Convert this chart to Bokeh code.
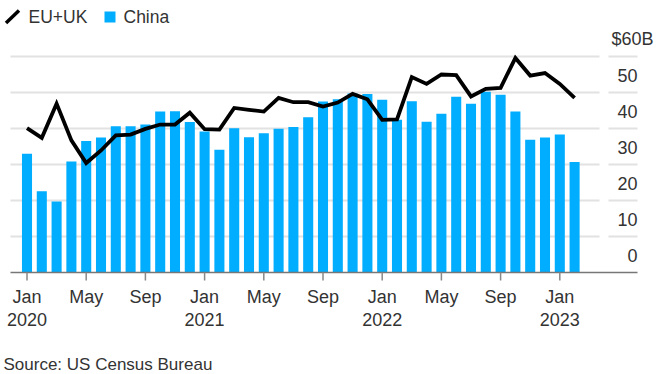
from bokeh.plotting import figure
from bokeh.models import Range1d, ColumnDataSource
from bokeh.core.properties import value
from bokeh.embed import file_html
from bokeh.resources import INLINE

# ---------------- data ----------------
month_index = list(range(38))  # Jan 2020 .. Feb 2023
china = [33.0, 22.6, 19.7, 30.8, 36.5, 37.5, 40.6, 40.6, 41.1, 44.7, 44.8, 41.8,
         39.2, 34.1, 40.1, 37.6, 38.7, 39.9, 40.4, 43.1, 47.5, 48.1, 49.7, 49.6,
         48.0, 42.4, 47.6, 41.9, 44.1, 48.8, 46.9, 50.2, 49.4, 44.7, 36.9, 37.5,
         38.3, 30.7]
eu_uk = [40.1, 37.4, 46.9, 36.7, 30.4, 33.9, 38.1, 38.3, 39.9, 41.1, 41.1, 44.4,
         39.8, 39.7, 45.7, 45.2, 44.7, 48.5, 47.3, 47.3, 46.1, 47.2, 49.6, 48.1,
         42.4, 42.5, 54.3, 52.4, 55.0, 54.8, 48.9, 51.0, 51.3, 59.6, 54.7, 55.4,
         52.4, 48.5]
tick_positions = [0, 4, 8, 12, 16, 20, 24, 28, 32, 36]
tick_months = ["Jan", "May", "Sep", "Jan", "May", "Sep", "Jan", "May", "Sep", "Jan"]
year_positions = [0, 12, 24, 36]
tick_years = ["2020", "2021", "2022", "2023"]
y_ticks = [0, 10, 20, 30, 40, 50]
y_tick_labels = ["0", "10", "20", "30", "40", "50"]
y_top_tick = 60
y_top_label = "$60B"
legend_labels = ["EU+UK", "China"]
source_text = "Source: US Census Bureau"

# ---------------- layout helpers (page pixels -> data units) ----------------
W, H = 664, 374
X0, DX = 26.5, 14.8    # page x of first month centre, px per month
Y0, DY = 272.0, 3.6    # page y of value 0, px per unit


def xd(X):
    return (X - X0) / DX


def yd(Y):
    return (Y0 - Y) / DY


FONT = "Liberation Sans"
TXT = "#333333"
BLUE = "#00adfe"
GRID = "#e2e2e2"

p = figure(width=W, height=H, output_backend="svg", toolbar_location=None,
           x_range=Range1d(xd(0), xd(W)), y_range=Range1d(yd(H), yd(0)),
           x_axis_location=None, y_axis_location=None,
           min_border_left=0, min_border_right=0,
           min_border_top=0, min_border_bottom=0)
p.outline_line_color = None
p.xgrid.visible = False
p.ygrid.visible = False
p.background_fill_color = "white"

# gridlines and label underlines
grid_vals = y_ticks[1:] + [y_top_tick]
n = len(grid_vals)
p.segment(x0=[xd(10)] * n, x1=[xd(599)] * n, y0=grid_vals, y1=grid_vals,
          line_color=GRID, line_width=2)
p.segment(x0=[xd(608)] * n, x1=[xd(637)] * n, y0=grid_vals, y1=grid_vals,
          line_color=GRID, line_width=2)

# bars and line
src = ColumnDataSource(dict(x=month_index, china=china, eu=eu_uk))
p.vbar(x="x", top="china", bottom=0, width=0.68, source=src,
       fill_color=BLUE, line_color=None)
p.line(x="x", y="eu", source=src, line_color="black", line_width=3.8,
       line_join="miter")

# x baseline and ticks
p.segment(x0=[xd(10)], x1=[xd(637)], y0=[0], y1=[0], line_color="#777777",
          line_width=1.5)
p.segment(x0=tick_positions, x1=tick_positions, y0=[0] * len(tick_positions),
          y1=[yd(280)] * len(tick_positions), line_color="#888888",
          line_width=1.5)

# x labels
p.text(x=tick_positions, y=[yd(296)] * len(tick_positions), text=tick_months,
       text_align="center", text_baseline="middle", text_font=value(FONT),
       text_font_size="18px", text_color=TXT)
p.text(x=year_positions, y=[yd(319)] * len(year_positions), text=tick_years,
       text_align="center", text_baseline="middle", text_font=value(FONT),
       text_font_size="18px", text_color=TXT)

# y labels (placed in the band above each gridline)
off = 17.5 / DY
p.text(x=[xd(637)] * len(y_ticks), y=[v + off for v in y_ticks],
       text=y_tick_labels, text_align="right", text_baseline="middle",
       text_font=value(FONT), text_font_size="18px", text_color=TXT)
p.text(x=[xd(653)], y=[y_top_tick + off], text=[y_top_label], text_align="right",
       text_baseline="middle", text_font=value(FONT), text_font_size="18px",
       text_color=TXT)

# legend
p.line(x=[xd(5.5), xd(18.5)], y=[yd(22.5), yd(10)], line_color="black",
       line_width=3.5)
p.text(x=[xd(28)], y=[yd(16)], text=[legend_labels[0]], text_align="left",
       text_baseline="middle", text_font=value(FONT), text_font_size="17.5px",
       text_color=TXT)
p.rect(x=[xd(109.5)], y=[yd(16.5)], width=11, height=11, width_units="screen",
       height_units="screen", fill_color=BLUE, line_color=None)
p.text(x=[xd(123)], y=[yd(16)], text=[legend_labels[1]], text_align="left",
       text_baseline="middle", text_font=value(FONT), text_font_size="17.5px",
       text_color=TXT)

# source note
p.text(x=[xd(3)], y=[yd(364)], text=[source_text], text_align="left",
       text_baseline="middle", text_font=value(FONT), text_font_size="17px",
       text_color=TXT)

open("out.html", "w").write(file_html(p, INLINE))
